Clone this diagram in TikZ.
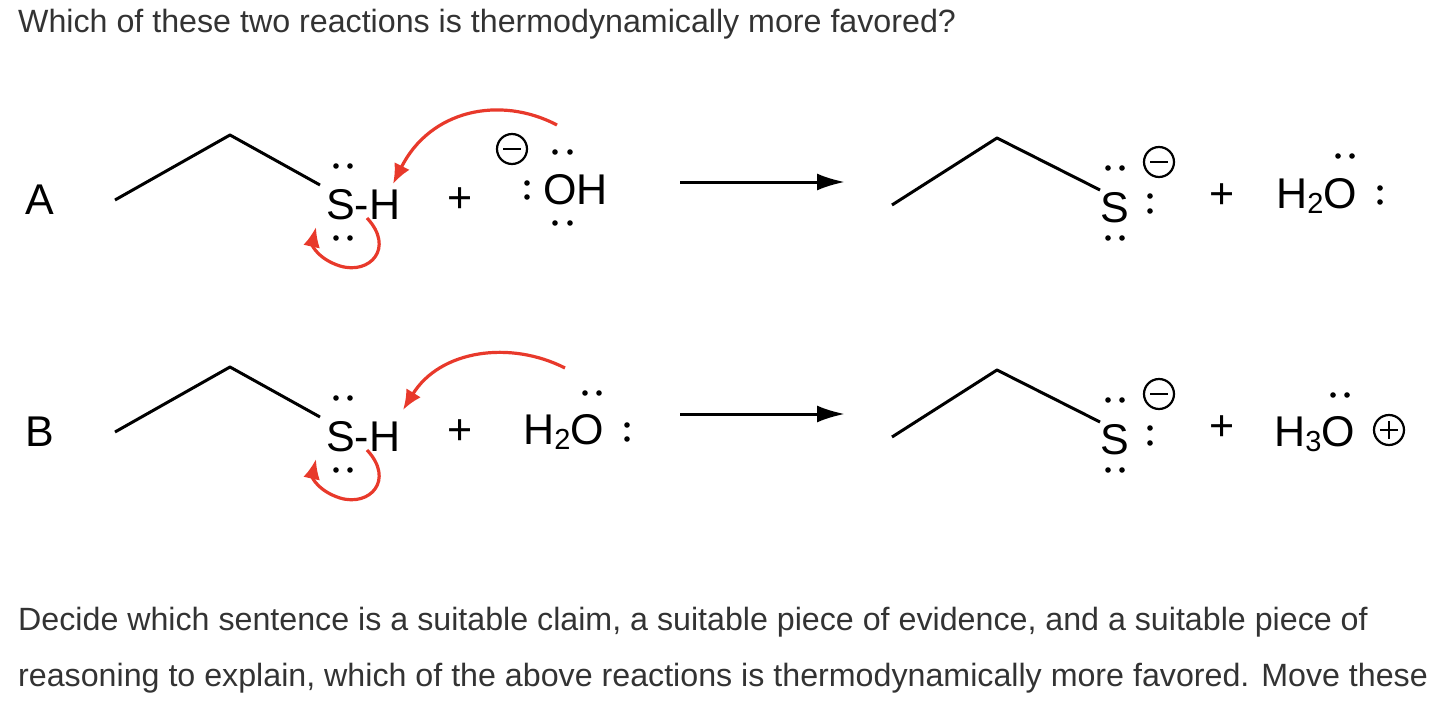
\documentclass[tikz,border=0pt]{standalone}
\usepackage{fontspec}
\setmainfont{Liberation Sans}
\usetikzlibrary{arrows.meta}
\definecolor{arr}{HTML}{E8392B}
\begin{document}
\begin{tikzpicture}[x=1pt,y=-1pt,
  bond/.style={line width=3pt},
  chem/.style={font=\fontsize{43}{45}\selectfont, inner sep=0pt},
  txt/.style={font=\fontsize{32.2}{36}\selectfont\color[HTML]{333333}, anchor=base west, inner sep=0pt},
  red/.style={draw=arr, line width=3.2pt, -{Latex[length=20pt,width=17pt]}},
  rxn/.style={line width=3pt, -{Latex[length=28pt,width=17pt]}},
  chg/.style={circle, draw, line width=2.2pt, minimum size=30pt, inner sep=0pt}]
\useasboundingbox (0,0) rectangle (1452,712);
\node[txt] (q) at (18,32) {Which of these two reactions is thermodynamically more favored?};
\node[txt] (d1) at (18,630) {Decide which sentence is a suitable claim, a suitable piece of evidence, and a suitable piece of};
\node[txt] (d2) at (18,686) {reasoning to explain, which of the above reactions is thermodynamically more favored. Move these};
\foreach \dy/\lab in {0/A,232/B}{
  \node[chem] (L\lab) at (40,200+\dy) {\lab};
  \node[chem,anchor=west] (SH\lab) at (326,205+\dy) {S-H};
  \coordinate (c1\lab) at (115,200+\dy);
  \coordinate (c2\lab) at (230,135+\dy);
  \coordinate (c3\lab) at (320,185+\dy);
  \draw[bond,line join=round] (c1\lab) -- (c2\lab) -- (c3\lab);
  \foreach \x in {336,350}{\fill (\x,166+\dy) circle (2.8); \fill (\x,238+\dy) circle (2.8);}
  \node[chem] (p\lab) at (460,200+\dy) {+};
  \draw[red] (367,218+\dy) .. controls (395,248+\dy) and (370,275+\dy) .. (340,266+\dy)
     .. controls (318,259+\dy) and (312,245+\dy) .. (316,227+\dy);
  \coordinate (a1\lab) at (680,182+\dy);
  \coordinate (a2\lab) at (845,182+\dy);
  \draw[rxn] (a1\lab) -- (a2\lab);
  \coordinate (d1\lab) at (892,205+\dy);
  \coordinate (d2\lab) at (997,138+\dy);
  \coordinate (d3\lab) at (1100,190+\dy);
  \draw[bond,line join=round] (d1\lab) -- (d2\lab) -- (d3\lab);
  \node[chem] (S\lab) at (1115,208+\dy) {S};
  \foreach \x in {1108,1122}{\fill (\x,168+\dy) circle (2.8); \fill (\x,238+\dy) circle (2.8);}
  \fill (1150,196+\dy) circle (2.8); \fill (1150,211+\dy) circle (2.8);
  \node[chg] (m\lab) at (1159,162+\dy) {}; \draw[line width=2.2pt] (1150,162+\dy) -- (1168,162+\dy);
  \node[chem] (q\lab) at (1222,196+\dy) {+};
}
% A reactant OH-
\draw[red] (557,125) .. controls (500,95) and (430,110) .. (393,184);
\node[chem,anchor=west] (OH) at (543,190) {OH};
\fill (527,183) circle (2.8); \fill (527,197) circle (2.8);
\foreach \x in {555,570}{\fill (\x,152) circle (2.8); \fill (\x,223) circle (2.8);}
\node[chg] (mOH) at (512,149) {}; \draw[line width=2.2pt] (503,149) -- (521,149);
% A product H2O
\node[chem,anchor=west] (W1) at (1276,196) {H\raisebox{-0.25ex}{\fontsize{29}{29}\selectfont 2}O};
\foreach \x in {1338,1352}{\fill (\x,156) circle (2.8);}
\fill (1380,188) circle (2.8); \fill (1380,202) circle (2.8);
% B reactant H2O
\draw[red] (565,368) .. controls (510,340) and (440,350) .. (403,410);
\node[chem,anchor=west] (W2) at (523,432) {H\raisebox{-0.25ex}{\fontsize{29}{29}\selectfont 2}O};
\foreach \x in {585,599}{\fill (\x,393) circle (2.8);}
\fill (627,425) circle (2.8); \fill (627,439) circle (2.8);
% B product H3O+
\node[chem,anchor=west] (W3) at (1274,434) {H\raisebox{-0.25ex}{\fontsize{29}{29}\selectfont 3}O};
\foreach \x in {1333,1347}{\fill (\x,395) circle (2.8);}
\node[chg] (pl) at (1389,430) {};
\draw[line width=2.2pt] (1380,430) -- (1398,430) (1389,421) -- (1389,439);
\end{tikzpicture}
\end{document}
